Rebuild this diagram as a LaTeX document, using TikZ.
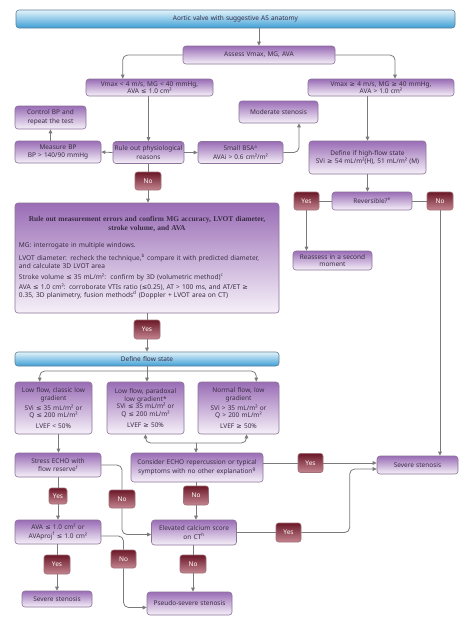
\documentclass[tikz,border=0pt]{standalone}
\usepackage{fontspec}
\setmainfont{Noto Sans}
\newfontfamily\symfont{DejaVu Sans}
\newfontfamily\headfont{Liberation Serif}
\newcommand{\LE}{{\symfont ≤}}
\newcommand{\GE}{{\symfont ≥}}
\usetikzlibrary{arrows.meta,calc}
\definecolor{ptop}{HTML}{9A6DB6}
\definecolor{pbot}{HTML}{F6F1F9}
\definecolor{pborder}{HTML}{8C7399}
\definecolor{rtop}{HTML}{6B1828}
\definecolor{rbot}{HTML}{C48590}
\definecolor{rborder}{HTML}{A07078}
\definecolor{btop}{HTML}{E2F3FB}
\definecolor{bbot}{HTML}{3E9FD6}
\definecolor{bborder}{HTML}{5E7F96}
\definecolor{lcol}{HTML}{7A7A7A}
\definecolor{tcol}{HTML}{3A2D45}
\newcommand{\fs}{\fontsize{6.5}{8.6}\selectfont}
\tikzset{
  pbox/.style={draw=pborder, line width=0.6pt, rounded corners=3pt, top color=ptop, bottom color=pbot,
    align=center, font=\fs, text=tcol, inner sep=1pt},
  bbox/.style={draw=bborder, line width=0.6pt, rounded corners=3pt, top color=btop, bottom color=bbot,
    align=center, font=\fs, text=tcol, inner sep=1pt},
  rbox/.style={draw=rborder, line width=0.6pt, rounded corners=2.5pt, top color=rtop, bottom color=rbot,
    align=center, font=\fs, text=white, inner sep=1pt},
  wh/.code 2 args={\pgfmathsetmacro\mytw{#1-2.5}%
    \edef\mytmp{\noexpand\tikzset{minimum width=#1pt, minimum height=#2pt, text width=\mytw pt}}\mytmp},
  link/.style={draw=lcol, line width=0.8pt, rounded corners=5pt},
  conn/.style={link, -{Triangle[length=4pt,width=3.6pt]}},
}
\begin{document}
\begin{tikzpicture}[x=1pt,y=-1pt]
\useasboundingbox[fill=white] (0,0) rectangle (474,630);

% nodes
\node[bbox, wh={439}{18}] (top) at (235.5,19) {Aortic valve with suggestive AS anatomy};
\node[pbox, wh={152}{18}] (assess) at (259,55) {Assess Vmax, MG, AVA};
\node[pbox, wh={127}{17}] (vl) at (149.5,87.5) {Vmax < 4 m/s, MG < 40 mmHg,\\[-1.5pt] AVA \LE{} 1.0 cm²};
\node[pbox, wh={146}{17}] (vr) at (381,87.5) {Vmax \GE{} 4 m/s, MG \GE{} 40 mmHg,\\[-1.5pt] AVA > 1.0 cm²};
\node[pbox, wh={71}{23}] (control) at (50.5,117.5) {Control BP and\\ repeat the test};
\node[pbox, wh={86}{22}] (measure) at (58,152) {Measure BP\\ BP > 140/90 mmHg};
\node[pbox, wh={71}{22}] (rule) at (148.5,152.5) {Rule out physiological\\ reasons};
\node[pbox, wh={85}{22}] (bsa) at (240.5,152.5) {Small BSA\textsuperscript{a}\\ AVAi > 0.6 cm²/m²};
\node[pbox, wh={79}{22}] (moderate) at (278.5,112) {Moderate stenosis};
\node[pbox, wh={117}{33}] (high) at (367.5,157.5) {Define if high-flow state\\ SVi \GE{} 54 mL/m²(H), 51 mL/m² (M)};
\node[rbox, wh={26}{18}] (no1) at (148,181) {No};
\node[pbox, text width=256pt, minimum height=110pt, inner sep=4pt, align=left,
  font=\fontsize{6.6}{7.8}\selectfont] (big) at (147,258) {%
{\centering\headfont\fontsize{7.4}{8.6}\selectfont\bfseries Rule out measurement errors and confirm MG accuracy, LVOT diameter,\\ stroke volume, and AVA\par}
\vspace{9pt}
MG: interrogate in multiple windows.\par\vspace{4pt}
LVOT diameter: recheck the technique,\textsuperscript{b} compare it with predicted diameter,\\ and calculate 3D LVOT area\par\vspace{3pt}
Stroke volume \LE{} 35 mL/m²:\ \ confirm by 3D (volumetric method)\textsuperscript{c}\par\vspace{3pt}
AVA \LE{} 1.0 cm²: corroborate VTIs ratio (\LE0.25), AT > 100 ms, and AT/ET \GE\\ 0.35, 3D planimetry, fusion methods\textsuperscript{d} (Doppler + LVOT area on CT)};
\node[rbox, wh={25}{18}] (yes2) at (306.5,201) {Yes};
\node[pbox, wh={80}{18}] (rev) at (372,201) {Reversible?\textsuperscript{e}};
\node[rbox, wh={26}{18}] (no2) at (440,201) {No};
\node[pbox, wh={79}{19}] (reassess) at (332.5,260.5) {Reassess in a second\\[-1.5pt] moment};
\node[rbox, wh={26}{19}] (yes3) at (147,329.5) {Yes};
\node[bbox, wh={264}{14}] (flow) at (147,359) {Define flow state};
\node[pbox, wh={77}{52}, font=\fontsize{6.5}{7.7}\selectfont] (box1) at (53.5,408) {Low flow, classic low\\ gradient\\[2.5pt] SVi \LE{} 35 mL/m² or\\ Q \LE{} 200 mL/m²\\[3pt] LVEF < 50\%};
\node[pbox, wh={77}{52}, font=\fontsize{6.5}{7.7}\selectfont] (box2) at (145.5,408) {Low flow, paradoxal\\ low gradient*\\ SVi \LE{} 35 mL/m² or\\ Q \LE{} 200 mL/m²\\[3pt] LVEF \GE{} 50\%};
\node[pbox, wh={81}{52}, font=\fontsize{6.5}{7.7}\selectfont] (box3) at (238.5,408) {Normal flow, low\\ gradient\\[2.5pt] SVi > 35 mL/m² or\\ Q > 200 mL/m²\\[3pt] LVEF \GE{} 50\%};
\coordinate (fb) at (147,371);
\coordinate (bb) at (196,443);
\node[pbox, wh={86}{24}] (stress) at (58,465) {Stress ECHO with\\ flow reserve\textsuperscript{f}};
\node[pbox, wh={132}{29}] (consider) at (197,467.5) {Consider ECHO repercussion or typical\\ symptoms with no other explanation\textsuperscript{g}};
\node[rbox, wh={25}{19}] (yes4) at (310.5,463) {Yes};
\node[pbox, wh={81}{18}] (severeR) at (417.5,465) {Severe stenosis};
\node[rbox, wh={18}{16}] (yes1) at (58,496) {Yes};
\node[rbox, wh={26}{18}] (no3) at (122,499) {No};
\node[rbox, wh={25}{19}] (no4) at (196,495.5) {No};
\node[pbox, wh={86}{24}] (ava) at (58,532) {AVA \LE{} 1.0 cm² or\\ AVAproj\textsuperscript{f} \LE{} 1.0 cm²};
\node[pbox, wh={85}{25}] (calc) at (194,532.5) {Elevated calcium score\\ on CT\textsuperscript{h}};
\node[rbox, wh={25}{19}] (yes5) at (288.5,532.5) {Yes};
\node[rbox, wh={26}{19}] (yes6) at (57,564.5) {Yes};
\node[rbox, wh={25}{18}] (no5) at (123.5,559) {No};
\node[rbox, wh={26}{18}] (no6) at (193,564) {No};
\node[pbox, wh={70}{16}] (severeL) at (57,599) {Severe stenosis};
\node[pbox, wh={85}{23}] (pseudo) at (189.5,603.5) {Pseudo-severe stenosis};

% connectors
\draw[conn] (top.south -| assess.north) -- (assess.north);
\draw[conn] (assess.west) -| ([xshift=37pt]vl.north west);
\draw[conn] (assess.east) -| ([xshift=14pt]vr.north);
\draw[conn] (vl.south -| rule.north) -- (rule.north);
\draw[conn] (rule.west) -- (measure.east);
\draw[conn] (rule.east) -- (bsa.west);
\draw[conn] (control.south |- measure.north) -- (control.south);
\draw[conn] (bsa.east) -| ([xshift=20.5pt]moderate.south);
\draw[conn] (high.north |- vr.south) -- (high.north);
\draw[conn] (high.south) -- (high.south |- rev.north);
\draw[link] (yes2.east) -- (rev.west);
\draw[link] (rev.east) -- (no2.west);
\draw[conn] (yes2.south) -- (yes2.south |- reassess.north);
\draw[conn] (no2.south) -- (no2.south |- severeR.north);
\draw[link] (rule.south -| no1.north) -- (no1.north);
\draw[conn] (no1.south) -- (no1.south |- big.north);
\draw[link] (big.south -| yes3.north) -- (yes3.north);
\draw[conn] (yes3.south) -- (yes3.south |- flow.north);
\draw[conn] (flow.south) -- (flow.south |- box2.north);
\draw[conn] (fb) -| ([xshift=25pt]box1.north west);
\draw[conn] (fb) -| ([xshift=-23pt]box3.north east);
\draw[conn] (bb) -| (box2.south);
\draw[conn] (bb) -| ([xshift=8pt]box3.south);
\draw[conn] (bb) -- (bb |- consider.north);
\draw[conn] ([xshift=5pt]box1.south) -- ([xshift=5pt]box1.south |- stress.north);
\draw[link] (stress.east) -| (no3.north);
\draw[conn] (no3.south) |- ([yshift=-2pt]calc.west);
\draw[link] ([yshift=4.5pt]consider.east) -- (yes4.west);
\draw[conn] (yes4.east) -- ([yshift=2pt]severeR.west);
\draw[link] (no4 |- consider.south) -- (no4.north);
\draw[conn] (no4.south) -- (no4 |- calc.north);
\draw[link] (calc.east) -- (yes5.west);
\draw[conn] (yes5.east) -| ([xshift=-27pt,yshift=-4pt]severeR.west) -- ([yshift=-4pt]severeR.west);
\draw[link] (yes1 |- stress.south) -- (yes1.north);
\draw[conn] (yes1.south) -- (yes1 |- ava.north);
\draw[link] (yes6 |- ava.south) -- (yes6.north);
\draw[conn] (yes6.south) -- (yes6 |- severeL.north);
\draw[link] ([yshift=-4pt]ava.east) -| (no5.north);
\draw[conn] (no5.south) |- ([yshift=-4pt]pseudo.west);
\draw[link] (no6 |- calc.south) -- (no6.north);
\draw[conn] (no6.south) -- (no6 |- pseudo.north);
\end{tikzpicture}
\end{document}
